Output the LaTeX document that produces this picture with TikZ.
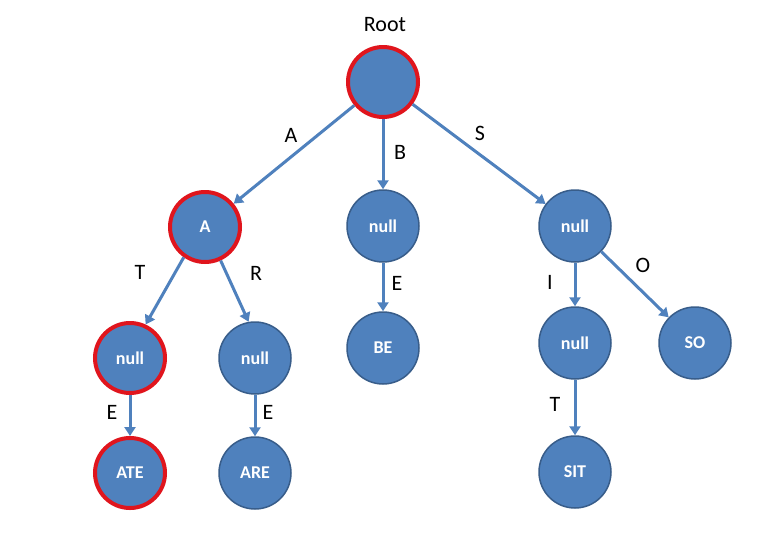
\documentclass[tikz,border=0pt]{standalone}
\usepackage{fontspec}
\setmainfont{Carlito}
\usetikzlibrary{arrows.meta}
\definecolor{trieblue}{HTML}{4F81BD}
\definecolor{trieline}{HTML}{385D8A}
\definecolor{triered}{HTML}{E0151D}

\begin{document}
\begin{tikzpicture}[
  x=1pt, y=-1pt,
  font=\fontsize{22}{26}\selectfont,
  trienode/.style={circle, draw=trieline, line width=1.5pt, fill=trieblue,
                   minimum size=72pt, inner sep=0pt, text=white,
                   font=\fontsize{18}{21}\selectfont\bfseries},
  wordnode/.style={trienode, draw=triered, line width=4pt, minimum size=70pt},
  link/.style={-{Triangle[width=11pt,length=9pt]}, line width=3pt, draw=trieblue},
  letter/.style={inner sep=0pt}
]

%% Frame
\fill[white] (0,0) rectangle (784,555);
\useasboundingbox (0,0) rectangle (784,555);

%% Nodes
\node[wordnode] (root)  at (383, 82)  {};
\node[letter]   (rootlbl) at (385, 25) {Root};
\node[wordnode] (nA)    at (205,227)  {A};
\node[trienode] (nB)    at (383,226)  {null};
\node[trienode] (nS)    at (575,226)  {null};
\node[wordnode] (nAT)   at (130,358)  {null};
\node[trienode] (nAR)   at (255,358)  {null};
\node[trienode] (nBE)   at (383,348)  {BE};
\node[trienode] (nSI)   at (575,343)  {null};
\node[trienode] (nSO)   at (695,343)  {SO};
\node[wordnode] (nATE)  at (130,473)  {ATE};
\node[trienode] (nARE)  at (255,473)  {ARE};
\node[trienode] (nSIT)  at (575,472)  {SIT};

%% Edges
\draw[link] (root) -- (nA);
\draw[link] (root) -- (nB);
\draw[link] (root) -- (nS);
\draw[link] (nA.-125) -- (nAT.65);
\draw[link] (nA.-65) -- (nAR.100);
\draw[link] (nB) -- (nBE);
\draw[link] (nS) -- (nSI);
\draw[link] (nS) -- (nSO);
\draw[link] (nAT) -- (nATE);
\draw[link] (nAR) -- (nARE);
\draw[link] (nSI) -- (nSIT);

%% Edge letters
\node[letter] (lA)   at (291,135) {A};
\node[letter] (lB)   at (400,152) {B};
\node[letter] (lS)   at (480,133) {S};
\node[letter] (lT)   at (140,272) {T};
\node[letter] (lR)   at (256,273) {R};
\node[letter] (lBE)  at (397,283) {E};
\node[letter] (lI)   at (550,282) {I};
\node[letter] (lO)   at (643,265) {O};
\node[letter] (lATE) at (112,412) {E};
\node[letter] (lARE) at (268,412) {E};
\node[letter] (lSIT) at (555,404) {T};

\end{tikzpicture}
\end{document}
